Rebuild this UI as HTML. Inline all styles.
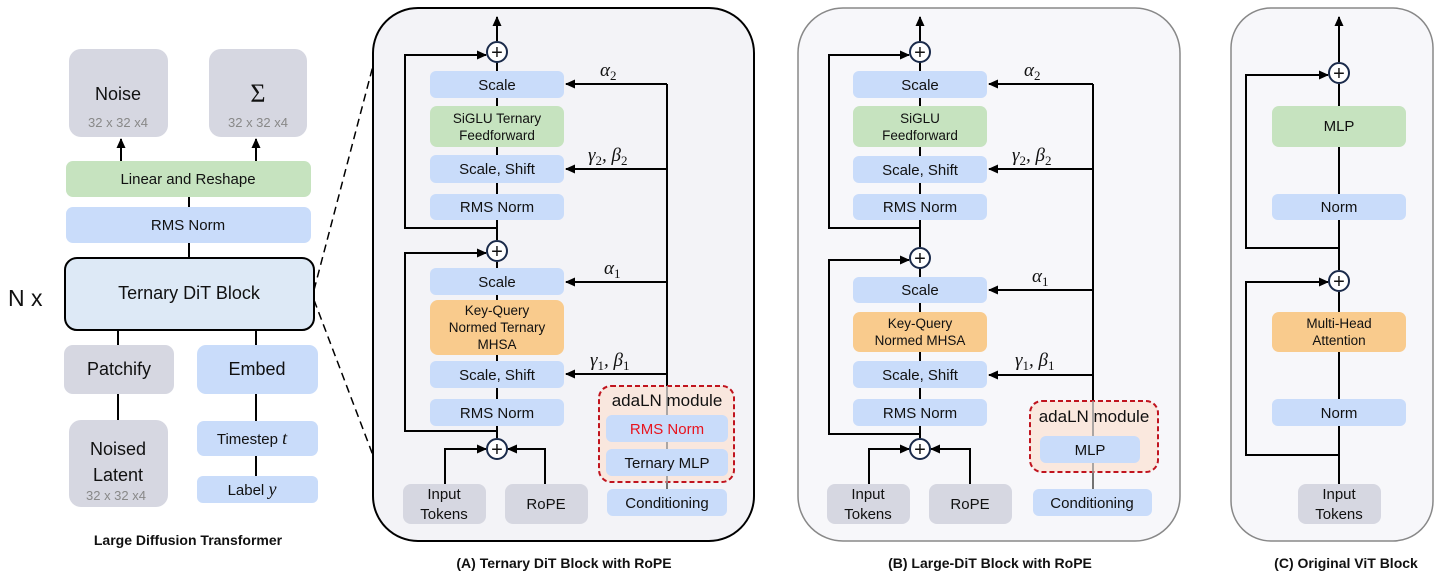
<!DOCTYPE html>
<html><head><meta charset="utf-8"><style>
body{margin:0;background:#fff}
svg text{font-family:"Liberation Sans",sans-serif;}
.t{font-size:15px;fill:#111;text-anchor:middle}
.m{font-family:"Liberation Serif",serif;font-style:italic;font-size:19px;fill:#111}
.c{font-size:14px;font-weight:bold;text-anchor:middle;fill:#111}
</style></head><body>
<svg width="1440" height="583" viewBox="0 0 1440 583" xmlns="http://www.w3.org/2000/svg">
<defs>
<marker id="a" markerWidth="10" markerHeight="10" refX="9" refY="5" orient="auto" markerUnits="userSpaceOnUse"><path d="M0,0.5 L10,5 L0,9.5 z" fill="#000"/></marker>
</defs>
<!-- LEFT -->
<rect x="69" y="49" width="99" height="88" rx="12" fill="#d6d7e1"/>
<rect x="209" y="49" width="98" height="88" rx="12" fill="#d6d7e1"/>
<text x="118" y="100" class="t" style="font-size:18px">Noise</text>
<text x="118" y="127" class="t" style="font-size:13px;fill:#888">32 x 32 x4</text>
<text x="258" y="102" class="t" style="font-size:26px;font-family:'Liberation Serif',serif">Σ</text>
<text x="258" y="127" class="t" style="font-size:13px;fill:#888">32 x 32 x4</text>
<g stroke="#000" stroke-width="2">
<line x1="121" y1="161" x2="121" y2="139" marker-end="url(#a)"/>
<line x1="256" y1="161" x2="256" y2="139" marker-end="url(#a)"/>
<line x1="189" y1="197" x2="189" y2="207"/>
<line x1="189" y1="243" x2="189" y2="258"/>
<line x1="118" y1="330" x2="118" y2="345"/>
<line x1="256" y1="330" x2="256" y2="345"/>
<line x1="118" y1="394" x2="118" y2="420"/>
<line x1="256" y1="394" x2="256" y2="421"/>
<line x1="256" y1="456" x2="256" y2="476"/>
</g>
<rect x="66" y="161" width="245" height="36" rx="7" fill="#c6e3bf"/>
<text x="188" y="184" class="t">Linear and Reshape</text>
<rect x="66" y="207" width="245" height="36" rx="7" fill="#c9dcfa"/>
<text x="188" y="230" class="t">RMS Norm</text>
<rect x="65" y="258" width="249" height="72" rx="12" fill="#dde9f6" stroke="#000" stroke-width="2"/>
<text x="189" y="299" class="t" style="font-size:18px">Ternary DiT Block</text>
<text x="8" y="306" style="font-size:23px;fill:#111">N x</text>
<rect x="64" y="345" width="110" height="49" rx="9" fill="#d6d7e1"/>
<text x="119" y="375" class="t" style="font-size:18px">Patchify</text>
<rect x="197" y="345" width="121" height="49" rx="9" fill="#c9dcfa"/>
<text x="257" y="375" class="t" style="font-size:18px">Embed</text>
<rect x="69" y="420" width="99" height="87" rx="12" fill="#d6d7e1"/>
<text x="118" y="455" class="t" style="font-size:18px">Noised</text>
<text x="118" y="481" class="t" style="font-size:18px">Latent</text>
<text x="116" y="500" class="t" style="font-size:13px;fill:#888">32 x 32 x4</text>
<rect x="197" y="421" width="121" height="35" rx="7" fill="#c9dcfa"/>
<text x="252" y="444" class="t">Timestep <tspan class="m" style="font-size:18px">t</tspan></text>
<rect x="197" y="476" width="121" height="27" rx="6" fill="#c9dcfa"/>
<text x="252" y="495" class="t">Label <tspan class="m" style="font-size:18px">y</tspan></text>
<text x="188" y="545" class="c">Large Diffusion Transformer</text>
<line x1="314" y1="290" x2="374" y2="62" stroke="#000" stroke-width="1.5" stroke-dasharray="8,5"/>
<line x1="314" y1="300" x2="374" y2="458" stroke="#000" stroke-width="1.5" stroke-dasharray="8,5"/>

<!-- PANEL A -->
<rect x="373" y="8" width="381" height="533" rx="45" fill="#f3f3f7" stroke="#000" stroke-width="2"/>
<g stroke="#000" stroke-width="2" fill="none">
<line x1="497" y1="41" x2="497" y2="17" marker-end="url(#a)"/>
<line x1="497" y1="62" x2="497" y2="240"/>
<line x1="497" y1="262" x2="497" y2="438"/>
<polyline points="497,228 405,228 405,55 486,55" marker-end="url(#a)"/>
<polyline points="497,431 405,431 405,253 486,253" marker-end="url(#a)"/>
<polyline points="445,484 445,449 486,449" marker-end="url(#a)"/>
<polyline points="545,484 545,449 508,449" marker-end="url(#a)"/>
<line x1="667" y1="84" x2="667" y2="489"/>
<line x1="667" y1="84" x2="566" y2="84" marker-end="url(#a)"/>
<line x1="667" y1="169" x2="566" y2="169" marker-end="url(#a)"/>
<line x1="667" y1="282" x2="566" y2="282" marker-end="url(#a)"/>
<line x1="667" y1="374" x2="566" y2="374" marker-end="url(#a)"/>
</g>
<g fill="#fff" stroke="#1a2a4a" stroke-width="2"><circle cx="497" cy="52" r="10"/><circle cx="497" cy="251" r="10"/><circle cx="497" cy="449" r="10"/></g>
<text x="497" y="59" class="t" style="font-size:20px">+</text><text x="497" y="258" class="t" style="font-size:20px">+</text><text x="497" y="456" class="t" style="font-size:20px">+</text>
<rect x="430" y="71" width="134" height="27" rx="6" fill="#c9dcfa"/><text x="497" y="90" class="t">Scale</text>
<rect x="430" y="106" width="134" height="41" rx="7" fill="#c6e3bf"/><text x="497" y="123" class="t" style="font-size:13.5px">SiGLU Ternary</text><text x="497" y="140" class="t" style="font-size:13.5px">Feedforward</text>
<rect x="430" y="155" width="134" height="28" rx="6" fill="#c9dcfa"/><text x="497" y="174" class="t">Scale, Shift</text>
<rect x="430" y="194" width="134" height="26" rx="6" fill="#c9dcfa"/><text x="497" y="212" class="t">RMS Norm</text>
<rect x="430" y="268" width="134" height="27" rx="6" fill="#c9dcfa"/><text x="497" y="287" class="t">Scale</text>
<rect x="430" y="300" width="134" height="55" rx="8" fill="#f9cb8d"/><text x="497" y="315" class="t" style="font-size:13.5px">Key-Query</text><text x="497" y="332" class="t" style="font-size:13.5px">Normed Ternary</text><text x="497" y="349" class="t" style="font-size:13.5px">MHSA</text>
<rect x="430" y="361" width="134" height="27" rx="6" fill="#c9dcfa"/><text x="497" y="380" class="t">Scale, Shift</text>
<rect x="430" y="399" width="134" height="27" rx="6" fill="#c9dcfa"/><text x="497" y="418" class="t">RMS Norm</text>
<rect x="403" y="484" width="83" height="40" rx="8" fill="#d6d7e1"/><text x="444" y="499" class="t">Input</text><text x="444" y="519" class="t">Tokens</text>
<rect x="505" y="484" width="83" height="40" rx="8" fill="#d6d7e1"/><text x="546" y="509" class="t">RoPE</text>
<rect x="599" y="386" width="135" height="96" rx="12" fill="#fae6da" fill-opacity="0.9" stroke="#c0141e" stroke-width="2" stroke-dasharray="5,3"/>
<line x1="667" y1="386" x2="667" y2="489" stroke="#999" stroke-width="1.5"/>
<text x="667" y="406" class="t" style="font-size:17px">adaLN module</text>
<rect x="606" y="415" width="122" height="27" rx="6" fill="#c9dcfa"/><text x="667" y="434" class="t" style="fill:#e8141e">RMS Norm</text>
<rect x="606" y="449" width="122" height="27" rx="6" fill="#c9dcfa"/><text x="667" y="468" class="t">Ternary MLP</text>
<rect x="607" y="489" width="120" height="27" rx="6" fill="#c9dcfa"/><text x="667" y="508" class="t">Conditioning</text>
<text x="600" y="76" class="m">α<tspan font-size="13" dy="4" font-style="normal">2</tspan></text>
<text x="588" y="161" class="m">γ<tspan font-size="13" dy="4" font-style="normal">2</tspan><tspan dy="-4">, β</tspan><tspan font-size="13" dy="4" font-style="normal">2</tspan></text>
<text x="604" y="274" class="m">α<tspan font-size="13" dy="4" font-style="normal">1</tspan></text>
<text x="590" y="366" class="m">γ<tspan font-size="13" dy="4" font-style="normal">1</tspan><tspan dy="-4">, β</tspan><tspan font-size="13" dy="4" font-style="normal">1</tspan></text>
<text x="564" y="568" class="c">(A) Ternary DiT Block with RoPE</text>

<!-- PANEL B -->
<rect x="798" y="8" width="382" height="533" rx="45" fill="#f7f7fa" stroke="#888" stroke-width="1.5"/>
<g stroke="#000" stroke-width="2" fill="none">
<line x1="920" y1="41" x2="920" y2="17" marker-end="url(#a)"/>
<line x1="920" y1="62" x2="920" y2="247"/>
<line x1="920" y1="268" x2="920" y2="438"/>
<polyline points="920,228 829,228 829,55 909,55" marker-end="url(#a)"/>
<polyline points="920,434 829,434 829,260 909,260" marker-end="url(#a)"/>
<polyline points="869,484 869,449 909,449" marker-end="url(#a)"/>
<polyline points="970,484 970,449 931,449" marker-end="url(#a)"/>
<line x1="1093" y1="84" x2="1093" y2="489"/>
<line x1="1093" y1="84" x2="989" y2="84" marker-end="url(#a)"/>
<line x1="1093" y1="169" x2="989" y2="169" marker-end="url(#a)"/>
<line x1="1093" y1="290" x2="989" y2="290" marker-end="url(#a)"/>
<line x1="1093" y1="375" x2="989" y2="375" marker-end="url(#a)"/>
</g>
<g fill="#fff" stroke="#1a2a4a" stroke-width="2"><circle cx="920" cy="52" r="10"/><circle cx="920" cy="258" r="10"/><circle cx="920" cy="449" r="10"/></g>
<text x="920" y="59" class="t" style="font-size:20px">+</text><text x="920" y="265" class="t" style="font-size:20px">+</text><text x="920" y="456" class="t" style="font-size:20px">+</text>
<rect x="853" y="71" width="134" height="27" rx="6" fill="#c9dcfa"/><text x="920" y="90" class="t">Scale</text>
<rect x="853" y="106" width="134" height="41" rx="7" fill="#c6e3bf"/><text x="920" y="123" class="t" style="font-size:13.5px">SiGLU</text><text x="920" y="140" class="t" style="font-size:13.5px">Feedforward</text>
<rect x="853" y="156" width="134" height="27" rx="6" fill="#c9dcfa"/><text x="920" y="175" class="t">Scale, Shift</text>
<rect x="853" y="194" width="134" height="26" rx="6" fill="#c9dcfa"/><text x="920" y="212" class="t">RMS Norm</text>
<rect x="853" y="277" width="134" height="26" rx="6" fill="#c9dcfa"/><text x="920" y="295" class="t">Scale</text>
<rect x="853" y="312" width="134" height="40" rx="7" fill="#f9cb8d"/><text x="920" y="328" class="t" style="font-size:13.5px">Key-Query</text><text x="920" y="345" class="t" style="font-size:13.5px">Normed MHSA</text>
<rect x="853" y="361" width="134" height="27" rx="6" fill="#c9dcfa"/><text x="920" y="380" class="t">Scale, Shift</text>
<rect x="853" y="399" width="134" height="27" rx="6" fill="#c9dcfa"/><text x="920" y="418" class="t">RMS Norm</text>
<rect x="827" y="484" width="83" height="40" rx="8" fill="#d6d7e1"/><text x="868" y="499" class="t">Input</text><text x="868" y="519" class="t">Tokens</text>
<rect x="929" y="484" width="83" height="40" rx="8" fill="#d6d7e1"/><text x="970" y="509" class="t">RoPE</text>
<rect x="1030" y="401" width="128" height="71" rx="12" fill="#fae6da" fill-opacity="0.9" stroke="#c0141e" stroke-width="2" stroke-dasharray="5,3"/>
<line x1="1093" y1="401" x2="1093" y2="489" stroke="#999" stroke-width="1.5"/>
<text x="1094" y="422" class="t" style="font-size:17px">adaLN module</text>
<rect x="1040" y="436" width="100" height="27" rx="6" fill="#c9dcfa"/><text x="1090" y="455" class="t">MLP</text>
<rect x="1033" y="489" width="119" height="27" rx="6" fill="#c9dcfa"/><text x="1092" y="508" class="t">Conditioning</text>
<text x="1024" y="76" class="m">α<tspan font-size="13" dy="4" font-style="normal">2</tspan></text>
<text x="1012" y="161" class="m">γ<tspan font-size="13" dy="4" font-style="normal">2</tspan><tspan dy="-4">, β</tspan><tspan font-size="13" dy="4" font-style="normal">2</tspan></text>
<text x="1032" y="282" class="m">α<tspan font-size="13" dy="4" font-style="normal">1</tspan></text>
<text x="1015" y="366" class="m">γ<tspan font-size="13" dy="4" font-style="normal">1</tspan><tspan dy="-4">, β</tspan><tspan font-size="13" dy="4" font-style="normal">1</tspan></text>
<text x="990" y="568" class="c">(B) Large-DiT Block with RoPE</text>

<!-- PANEL C -->
<rect x="1231" y="8" width="202" height="533" rx="40" fill="#f7f7fa" stroke="#888" stroke-width="1.5"/>
<g stroke="#000" stroke-width="2" fill="none">
<line x1="1339" y1="62" x2="1339" y2="17" marker-end="url(#a)"/>
<line x1="1339" y1="84" x2="1339" y2="270"/>
<line x1="1339" y1="292" x2="1339" y2="484"/>
<polyline points="1339,248 1246,248 1246,75 1328,75" marker-end="url(#a)"/>
<polyline points="1339,455 1246,455 1246,282 1328,282" marker-end="url(#a)"/>
</g>
<g fill="#fff" stroke="#1a2a4a" stroke-width="2"><circle cx="1339" cy="73" r="10"/><circle cx="1339" cy="281" r="10"/></g>
<text x="1339" y="80" class="t" style="font-size:20px">+</text><text x="1339" y="288" class="t" style="font-size:20px">+</text>
<rect x="1272" y="106" width="134" height="41" rx="7" fill="#c6e3bf"/><text x="1339" y="131" class="t">MLP</text>
<rect x="1272" y="194" width="134" height="26" rx="6" fill="#c9dcfa"/><text x="1339" y="212" class="t">Norm</text>
<rect x="1272" y="312" width="134" height="40" rx="7" fill="#f9cb8d"/><text x="1339" y="328" class="t" style="font-size:13.5px">Multi-Head</text><text x="1339" y="345" class="t" style="font-size:13.5px">Attention</text>
<rect x="1272" y="399" width="134" height="27" rx="6" fill="#c9dcfa"/><text x="1339" y="418" class="t">Norm</text>
<rect x="1298" y="484" width="83" height="40" rx="8" fill="#d6d7e1"/><text x="1339" y="499" class="t">Input</text><text x="1339" y="519" class="t">Tokens</text>
<text x="1346" y="568" class="c">(C) Original ViT Block</text>
</svg>
</body></html>
